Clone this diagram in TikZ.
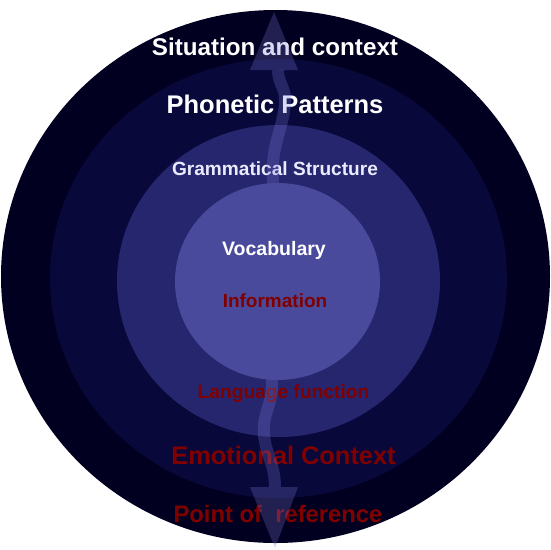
\documentclass[tikz,border=0pt]{standalone}
\usepackage{fontspec}
\setmainfont{Liberation Sans}
\usepackage{tikz}

\definecolor{ringA}{RGB}{2,0,32}
\definecolor{ringB}{RGB}{9,8,58}
\definecolor{ringC}{RGB}{38,38,110}
\definecolor{kern}{RGB}{74,74,156}
\definecolor{pfeilfarbe}{RGB}{120,120,215}
\definecolor{dunkelrot}{RGB}{128,0,0}

\begin{document}
\begin{tikzpicture}[x=1pt,y=-1pt,
  weiss/.style={text=white,font=\bfseries\fontsize{#1}{#1}\selectfont},
  rot/.style={text=dunkelrot,font=\bfseries\fontsize{#1}{#1}\selectfont},
  pfeil/.style={pfeilfarbe,opacity=0.27}]
\useasboundingbox (0,0) rectangle (550,550);

%Ringe von aussen nach innen
\fill[ringA] (275.5,276.5) ellipse [x radius=274.5, y radius=266.5];
\fill[ringB] (278.5,278.5) ellipse [x radius=228.5, y radius=219.5];
\fill[ringC] (278.5,281) ellipse [x radius=161.5, y radius=156];

%Beschriftung aussen
\node[weiss=24.2] (situation) at (275,47) {Situation and context};
\node[weiss=25.5] (phonetik) at (275,104) {Phonetic Patterns};
\node[weiss=19.1,text=white!92!blue] (grammatik) at (275,169) {Grammatical Structure};
\node[rot=19.2] (funktion) at (283.5,394) {Language function};
\node[rot=25.4] (emotion) at (283.5,455) {Emotional Context};
\node[rot=23.8] (bezug) at (278,514) {Point of\ \ reference};

%Pfeil
\coordinate (spitzeO) at (274,12);
\coordinate (spitzeU) at (275,548);
\coordinate (schaftO) at (278,70);
\coordinate (schaftU) at (275,487);
\fill[pfeil] (250,70) -- (spitzeO) -- (298,70) -- cycle;
\fill[pfeil] (250,487) -- (spitzeU) -- (298,487) -- cycle;
\draw[pfeil,line width=12] (schaftO) .. controls (278,84) and (286,88) .. (285,102)
  .. controls (284,125) and (272,145) .. (273,170) -- (272,385)
  .. controls (272,405) and (262,415) .. (264,435)
  .. controls (266,455) and (275,465) .. (schaftU);

%Kern
\fill[kern] (277.5,281.5) ellipse [x radius=102.5, y radius=98.5];
\node[weiss=19.5] (wortschatz) at (274,250) {Vocabulary};
\node[rot=19] (information) at (275,301) {Information};
\end{tikzpicture}
\end{document}
